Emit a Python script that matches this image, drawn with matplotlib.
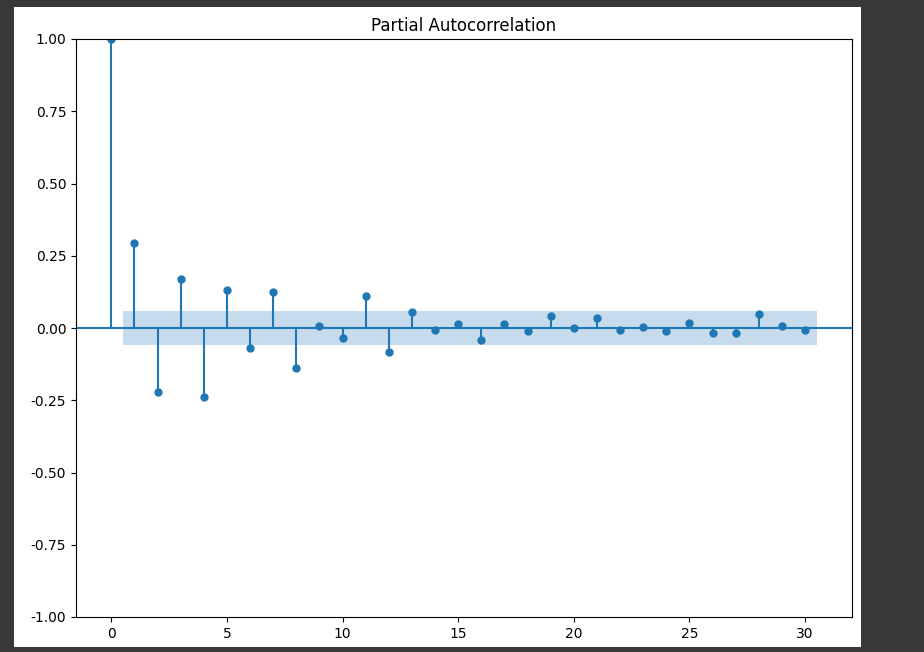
import matplotlib
matplotlib.use("Agg")
import matplotlib.pyplot as plt
from matplotlib.patches import Rectangle
import numpy as np

# partial autocorrelation per lag
lags = list(range(31))
pacf_values = [
    1.0, 0.294, -0.221, 0.170, -0.239, 0.131, -0.069, 0.125, -0.138, 0.007,
    -0.035, 0.111, -0.084, 0.054, -0.008, 0.013, -0.043, 0.013, -0.011, 0.041,
    -0.001, 0.033, -0.008, 0.002, -0.011, 0.016, -0.018, -0.018, 0.047, 0.006,
    -0.008,
]
conf_band = 0.06
band_x = [0.5, 30.5]
y_ticks = [-1.0, -0.75, -0.5, -0.25, 0.0, 0.25, 0.5, 0.75, 1.0]
x_ticks = [0, 5, 10, 15, 20, 25, 30]

fig = plt.figure(figsize=(9.24, 6.52), dpi=100, facecolor="#383838")
W, H = 924, 652
# white canvas inside the dark frame
fig.patches.append(Rectangle((14 / W, 1 - 647 / H), (861 - 14) / W, (647 - 7) / H,
                             transform=fig.transFigure, facecolor="white",
                             edgecolor="none", zorder=-10))
ax = fig.add_axes([76 / W, 1 - 617 / H, (852 - 76) / W, (617 - 39) / H])

lag_arr = np.array(lags)
vals = np.array(pacf_values)
ax.vlines(lag_arr, 0, vals, color="C0", linewidth=1.5)
ax.axhline(0, color="C0", linewidth=1.5)
ax.plot(lag_arr, vals, marker="o", markersize=5, linestyle="none", color="C0")
ax.fill_between(band_x, -conf_band, conf_band, color="C0", alpha=0.25, linewidth=0)

ax.set_xlim(-1.525, 32.03)
ax.set_ylim(-1, 1)
ax.set_yticks(y_ticks)
ax.set_yticklabels([f"{v:.2f}" for v in y_ticks])
ax.set_xticks(x_ticks)
ax.set_title("Partial Autocorrelation", fontsize=12)

fig.savefig("out.png", dpi=100, facecolor=fig.get_facecolor())
